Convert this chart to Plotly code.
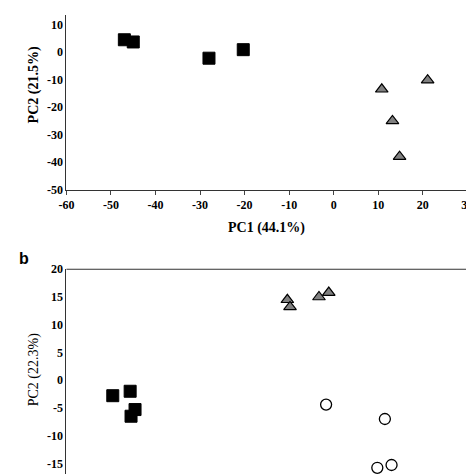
import plotly.graph_objects as go

# Panel a
a_sq_x = [-47, -45, -28, -20.3]
a_sq_y = [4.5, 3.7, -2.2, 0.9]
a_tri_x = [10.8, 13.2, 14.8, 21.1]
a_tri_y = [-13.5, -25, -38, -10.2]
# Panel b
b_sq_x = [-49.6, -45.7, -45.5, -44.6]
b_sq_y = [-2.8, -2.0, -6.5, -5.3]
b_tri_x = [-10.4, -9.8, -3.3, -1.1]
b_tri_y = [14.5, 13.2, 15.0, 15.8]
b_circ_x = [-1.7, 11.5, 9.8, 13.0]
b_circ_y = [-4.4, -7.0, -15.8, -15.3]
a_xticks = [-60, -50, -40, -30, -20, -10, 0, 10, 20, 30]
a_yticks = [-50, -40, -30, -20, -10, 0, 10]
b_yticks = [-15, -10, -5, 0, 5, 10, 15, 20]

def lab(v):
    return ["<b>%d</b>" % t for t in v]

tf = dict(family="Liberation Serif", size=12, color="black")
fig = go.Figure()
sq = dict(symbol="square", size=12, color="black", line=dict(color="black", width=1))
tri = dict(symbol="triangle-up", size=11, color="#808080", line=dict(color="black", width=1.2))
fig.add_trace(go.Scatter(x=a_sq_x, y=a_sq_y, mode="markers", marker=sq, xaxis="x", yaxis="y"))
fig.add_trace(go.Scatter(x=a_tri_x, y=a_tri_y, mode="markers", marker=tri, xaxis="x", yaxis="y"))
fig.add_trace(go.Scatter(x=b_sq_x, y=b_sq_y, mode="markers", marker=sq, xaxis="x2", yaxis="y2"))
fig.add_trace(go.Scatter(x=b_tri_x, y=b_tri_y, mode="markers", marker=tri, xaxis="x2", yaxis="y2"))
fig.add_trace(go.Scatter(x=b_circ_x, y=b_circ_y, mode="markers",
                         marker=dict(symbol="circle", size=11, color="white", line=dict(color="black", width=1.3)),
                         xaxis="x2", yaxis="y2"))

xd = [52/474, 465/474]
ln = dict(color="#333", width=1)
fig.update_layout(
    width=474, height=474, margin=dict(l=0, r=0, t=0, b=0),
    plot_bgcolor="white", paper_bgcolor="white", showlegend=False,
    xaxis=dict(domain=xd, range=[-60, 30], tickvals=a_xticks, ticktext=lab(a_xticks), showgrid=False,
               zeroline=False, showline=True, linecolor="#333", ticks="outside", ticklen=4,
               tickfont=tf, anchor="y"),
    yaxis=dict(domain=[1-180/474, 1], range=[-50, 13.5], tickvals=a_yticks, ticktext=lab(a_yticks),
               showgrid=False, zeroline=False, showline=True, linecolor="#333",
               ticks="", tickfont=tf, anchor="x"),
    xaxis2=dict(domain=xd, range=[-60, 30], showgrid=False, zeroline=False, showline=False,
                showticklabels=False, anchor="y2"),
    yaxis2=dict(domain=[0, 1-262/474], range=[-17.1, 20], tickvals=b_yticks, ticktext=lab(b_yticks),
                showgrid=False, zeroline=False, showline=True, linecolor="#333", ticks="",
                tickfont=tf, anchor="x2"),
    shapes=[
        dict(type="line", xref="x2 domain", yref="y2 domain", x0=0, x1=1, y0=1, y1=1, line=ln),
        dict(type="line", xref="x2 domain", yref="y2 domain", x0=1, x1=1, y0=0, y1=1, line=ln),
        dict(type="line", xref="x domain", yref="y domain", x0=1, x1=1, y0=0, y1=1, line=ln),
    ],
    annotations=[
        dict(text="<b>PC1 (44.1%)</b>", x=0.5*(xd[0]+xd[1]), y=1-219/474, xref="paper", yref="paper",
             showarrow=False, font=dict(family="Liberation Serif", size=14, color="black")),
        dict(text="<b>PC2 (21.5%)</b>", x=8/474, y=1-30/474, xref="paper", yref="paper",
             textangle=-90, showarrow=False, font=dict(family="Liberation Serif", size=14, color="black")),
        dict(text="PC2 (22.3%)", x=8/474, y=1-405/474, xref="paper", yref="paper",
             textangle=-90, showarrow=False, font=dict(family="Liberation Serif", size=14, color="black")),
        dict(text="<b>b</b>", x=1/474, y=1-251/474, xref="paper", yref="paper", xanchor="left",
             showarrow=False, font=dict(family="Liberation Sans", size=16, color="black")),
    ],
)
fig.write_html("out.html")
